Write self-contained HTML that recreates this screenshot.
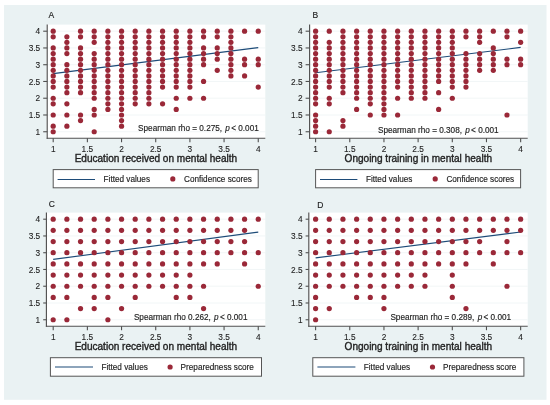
<!DOCTYPE html>
<html><head><meta charset="utf-8"><title>Scatter plots</title>
<style>
html,body{margin:0;padding:0;background:#fff;}
body{width:550px;height:405px;overflow:hidden;}
svg{display:block;}
text{font-family:"Liberation Sans", Arial, sans-serif;fill:#222;}
circle{fill:#9a2838;}
.tk{stroke:#222;stroke-width:0.1px;}
.xt{stroke:#222;stroke-width:0.35px;}
.lt{stroke:#222;stroke-width:0.15px;}
.t{stroke:#222;stroke-width:0.15px;}
</style></head><body>
<svg width="550" height="405" viewBox="0 0 550 405">
<rect x="0" y="0" width="550" height="405" fill="#fff"/>
<rect x="4" y="5" width="542.5" height="394.8" fill="#eaf2f3"/>
<rect x="46.5" y="24.6" width="218.8" height="113.6" fill="#fff"/>
<line x1="46.5" x2="265.3" y1="131.75" y2="131.75" stroke="#eff4f5" stroke-width="0.8"/>
<line x1="46.5" x2="265.3" y1="114.99" y2="114.99" stroke="#eff4f5" stroke-width="0.8"/>
<line x1="46.5" x2="265.3" y1="98.23" y2="98.23" stroke="#eff4f5" stroke-width="0.8"/>
<line x1="46.5" x2="265.3" y1="81.47" y2="81.47" stroke="#eff4f5" stroke-width="0.8"/>
<line x1="46.5" x2="265.3" y1="64.72" y2="64.72" stroke="#eff4f5" stroke-width="0.8"/>
<line x1="46.5" x2="265.3" y1="47.96" y2="47.96" stroke="#eff4f5" stroke-width="0.8"/>
<line x1="46.5" x2="265.3" y1="31.20" y2="31.20" stroke="#eff4f5" stroke-width="0.8"/>
<line x1="53.20" y1="73.60" x2="258.25" y2="47.60" stroke="#1d4b78" stroke-width="1.1"/>
<circle cx="53.20" cy="31.20" r="2.6"/>
<circle cx="53.20" cy="36.79" r="2.6"/>
<circle cx="53.20" cy="47.96" r="2.6"/>
<circle cx="53.20" cy="53.54" r="2.6"/>
<circle cx="53.20" cy="59.13" r="2.6"/>
<circle cx="53.20" cy="64.72" r="2.6"/>
<circle cx="53.20" cy="70.30" r="2.6"/>
<circle cx="53.20" cy="75.89" r="2.6"/>
<circle cx="53.20" cy="81.47" r="2.6"/>
<circle cx="53.20" cy="87.06" r="2.6"/>
<circle cx="53.20" cy="98.23" r="2.6"/>
<circle cx="53.20" cy="103.82" r="2.6"/>
<circle cx="53.20" cy="114.99" r="2.6"/>
<circle cx="53.20" cy="126.16" r="2.6"/>
<circle cx="53.20" cy="131.75" r="2.6"/>
<circle cx="66.87" cy="36.79" r="2.6"/>
<circle cx="66.87" cy="42.37" r="2.6"/>
<circle cx="66.87" cy="47.96" r="2.6"/>
<circle cx="66.87" cy="53.54" r="2.6"/>
<circle cx="66.87" cy="64.72" r="2.6"/>
<circle cx="66.87" cy="70.30" r="2.6"/>
<circle cx="66.87" cy="75.89" r="2.6"/>
<circle cx="66.87" cy="81.47" r="2.6"/>
<circle cx="66.87" cy="87.06" r="2.6"/>
<circle cx="66.87" cy="92.65" r="2.6"/>
<circle cx="66.87" cy="103.82" r="2.6"/>
<circle cx="66.87" cy="114.99" r="2.6"/>
<circle cx="66.87" cy="126.16" r="2.6"/>
<circle cx="80.54" cy="31.20" r="2.6"/>
<circle cx="80.54" cy="36.79" r="2.6"/>
<circle cx="80.54" cy="47.96" r="2.6"/>
<circle cx="80.54" cy="53.54" r="2.6"/>
<circle cx="80.54" cy="59.13" r="2.6"/>
<circle cx="80.54" cy="64.72" r="2.6"/>
<circle cx="80.54" cy="70.30" r="2.6"/>
<circle cx="80.54" cy="75.89" r="2.6"/>
<circle cx="80.54" cy="81.47" r="2.6"/>
<circle cx="80.54" cy="87.06" r="2.6"/>
<circle cx="80.54" cy="92.65" r="2.6"/>
<circle cx="80.54" cy="114.99" r="2.6"/>
<circle cx="80.54" cy="120.58" r="2.6"/>
<circle cx="94.21" cy="31.20" r="2.6"/>
<circle cx="94.21" cy="36.79" r="2.6"/>
<circle cx="94.21" cy="42.37" r="2.6"/>
<circle cx="94.21" cy="53.54" r="2.6"/>
<circle cx="94.21" cy="59.13" r="2.6"/>
<circle cx="94.21" cy="64.72" r="2.6"/>
<circle cx="94.21" cy="70.30" r="2.6"/>
<circle cx="94.21" cy="75.89" r="2.6"/>
<circle cx="94.21" cy="81.47" r="2.6"/>
<circle cx="94.21" cy="87.06" r="2.6"/>
<circle cx="94.21" cy="92.65" r="2.6"/>
<circle cx="94.21" cy="98.23" r="2.6"/>
<circle cx="94.21" cy="109.41" r="2.6"/>
<circle cx="94.21" cy="114.99" r="2.6"/>
<circle cx="94.21" cy="131.75" r="2.6"/>
<circle cx="107.88" cy="31.20" r="2.6"/>
<circle cx="107.88" cy="36.79" r="2.6"/>
<circle cx="107.88" cy="42.37" r="2.6"/>
<circle cx="107.88" cy="47.96" r="2.6"/>
<circle cx="107.88" cy="53.54" r="2.6"/>
<circle cx="107.88" cy="59.13" r="2.6"/>
<circle cx="107.88" cy="64.72" r="2.6"/>
<circle cx="107.88" cy="70.30" r="2.6"/>
<circle cx="107.88" cy="75.89" r="2.6"/>
<circle cx="107.88" cy="81.47" r="2.6"/>
<circle cx="107.88" cy="87.06" r="2.6"/>
<circle cx="107.88" cy="92.65" r="2.6"/>
<circle cx="107.88" cy="98.23" r="2.6"/>
<circle cx="107.88" cy="103.82" r="2.6"/>
<circle cx="107.88" cy="109.41" r="2.6"/>
<circle cx="121.55" cy="31.20" r="2.6"/>
<circle cx="121.55" cy="36.79" r="2.6"/>
<circle cx="121.55" cy="42.37" r="2.6"/>
<circle cx="121.55" cy="47.96" r="2.6"/>
<circle cx="121.55" cy="53.54" r="2.6"/>
<circle cx="121.55" cy="59.13" r="2.6"/>
<circle cx="121.55" cy="64.72" r="2.6"/>
<circle cx="121.55" cy="70.30" r="2.6"/>
<circle cx="121.55" cy="75.89" r="2.6"/>
<circle cx="121.55" cy="81.47" r="2.6"/>
<circle cx="121.55" cy="87.06" r="2.6"/>
<circle cx="121.55" cy="92.65" r="2.6"/>
<circle cx="121.55" cy="98.23" r="2.6"/>
<circle cx="121.55" cy="103.82" r="2.6"/>
<circle cx="121.55" cy="109.41" r="2.6"/>
<circle cx="121.55" cy="114.99" r="2.6"/>
<circle cx="121.55" cy="120.58" r="2.6"/>
<circle cx="121.55" cy="126.16" r="2.6"/>
<circle cx="135.22" cy="31.20" r="2.6"/>
<circle cx="135.22" cy="36.79" r="2.6"/>
<circle cx="135.22" cy="42.37" r="2.6"/>
<circle cx="135.22" cy="47.96" r="2.6"/>
<circle cx="135.22" cy="53.54" r="2.6"/>
<circle cx="135.22" cy="59.13" r="2.6"/>
<circle cx="135.22" cy="64.72" r="2.6"/>
<circle cx="135.22" cy="70.30" r="2.6"/>
<circle cx="135.22" cy="75.89" r="2.6"/>
<circle cx="135.22" cy="81.47" r="2.6"/>
<circle cx="135.22" cy="87.06" r="2.6"/>
<circle cx="135.22" cy="92.65" r="2.6"/>
<circle cx="135.22" cy="98.23" r="2.6"/>
<circle cx="135.22" cy="103.82" r="2.6"/>
<circle cx="148.89" cy="31.20" r="2.6"/>
<circle cx="148.89" cy="36.79" r="2.6"/>
<circle cx="148.89" cy="42.37" r="2.6"/>
<circle cx="148.89" cy="47.96" r="2.6"/>
<circle cx="148.89" cy="53.54" r="2.6"/>
<circle cx="148.89" cy="59.13" r="2.6"/>
<circle cx="148.89" cy="64.72" r="2.6"/>
<circle cx="148.89" cy="70.30" r="2.6"/>
<circle cx="148.89" cy="75.89" r="2.6"/>
<circle cx="148.89" cy="81.47" r="2.6"/>
<circle cx="148.89" cy="87.06" r="2.6"/>
<circle cx="148.89" cy="92.65" r="2.6"/>
<circle cx="148.89" cy="98.23" r="2.6"/>
<circle cx="148.89" cy="103.82" r="2.6"/>
<circle cx="162.56" cy="31.20" r="2.6"/>
<circle cx="162.56" cy="36.79" r="2.6"/>
<circle cx="162.56" cy="42.37" r="2.6"/>
<circle cx="162.56" cy="47.96" r="2.6"/>
<circle cx="162.56" cy="53.54" r="2.6"/>
<circle cx="162.56" cy="59.13" r="2.6"/>
<circle cx="162.56" cy="64.72" r="2.6"/>
<circle cx="162.56" cy="70.30" r="2.6"/>
<circle cx="162.56" cy="75.89" r="2.6"/>
<circle cx="162.56" cy="81.47" r="2.6"/>
<circle cx="162.56" cy="87.06" r="2.6"/>
<circle cx="162.56" cy="103.82" r="2.6"/>
<circle cx="176.23" cy="31.20" r="2.6"/>
<circle cx="176.23" cy="36.79" r="2.6"/>
<circle cx="176.23" cy="42.37" r="2.6"/>
<circle cx="176.23" cy="47.96" r="2.6"/>
<circle cx="176.23" cy="53.54" r="2.6"/>
<circle cx="176.23" cy="59.13" r="2.6"/>
<circle cx="176.23" cy="64.72" r="2.6"/>
<circle cx="176.23" cy="70.30" r="2.6"/>
<circle cx="176.23" cy="75.89" r="2.6"/>
<circle cx="176.23" cy="81.47" r="2.6"/>
<circle cx="176.23" cy="87.06" r="2.6"/>
<circle cx="176.23" cy="98.23" r="2.6"/>
<circle cx="176.23" cy="109.41" r="2.6"/>
<circle cx="189.90" cy="31.20" r="2.6"/>
<circle cx="189.90" cy="36.79" r="2.6"/>
<circle cx="189.90" cy="42.37" r="2.6"/>
<circle cx="189.90" cy="47.96" r="2.6"/>
<circle cx="189.90" cy="53.54" r="2.6"/>
<circle cx="189.90" cy="59.13" r="2.6"/>
<circle cx="189.90" cy="64.72" r="2.6"/>
<circle cx="189.90" cy="70.30" r="2.6"/>
<circle cx="189.90" cy="75.89" r="2.6"/>
<circle cx="189.90" cy="81.47" r="2.6"/>
<circle cx="189.90" cy="87.06" r="2.6"/>
<circle cx="189.90" cy="98.23" r="2.6"/>
<circle cx="203.57" cy="31.20" r="2.6"/>
<circle cx="203.57" cy="36.79" r="2.6"/>
<circle cx="203.57" cy="47.96" r="2.6"/>
<circle cx="203.57" cy="53.54" r="2.6"/>
<circle cx="203.57" cy="59.13" r="2.6"/>
<circle cx="203.57" cy="64.72" r="2.6"/>
<circle cx="203.57" cy="81.47" r="2.6"/>
<circle cx="203.57" cy="98.23" r="2.6"/>
<circle cx="217.24" cy="31.20" r="2.6"/>
<circle cx="217.24" cy="36.79" r="2.6"/>
<circle cx="217.24" cy="47.96" r="2.6"/>
<circle cx="217.24" cy="53.54" r="2.6"/>
<circle cx="217.24" cy="59.13" r="2.6"/>
<circle cx="217.24" cy="70.30" r="2.6"/>
<circle cx="230.91" cy="31.20" r="2.6"/>
<circle cx="230.91" cy="36.79" r="2.6"/>
<circle cx="230.91" cy="42.37" r="2.6"/>
<circle cx="230.91" cy="47.96" r="2.6"/>
<circle cx="230.91" cy="53.54" r="2.6"/>
<circle cx="230.91" cy="59.13" r="2.6"/>
<circle cx="230.91" cy="64.72" r="2.6"/>
<circle cx="230.91" cy="70.30" r="2.6"/>
<circle cx="230.91" cy="75.89" r="2.6"/>
<circle cx="244.58" cy="31.20" r="2.6"/>
<circle cx="244.58" cy="59.13" r="2.6"/>
<circle cx="244.58" cy="64.72" r="2.6"/>
<circle cx="244.58" cy="75.89" r="2.6"/>
<circle cx="258.25" cy="31.20" r="2.6"/>
<circle cx="258.25" cy="59.13" r="2.6"/>
<circle cx="258.25" cy="64.72" r="2.6"/>
<circle cx="258.25" cy="87.06" r="2.6"/>
<line x1="47.2" x2="47.2" y1="24.6" y2="138.7" stroke="#505050" stroke-width="1.15"/>
<line x1="46.7" x2="265.3" y1="138.2" y2="138.2" stroke="#505050" stroke-width="1.15"/>
<line x1="43.2" x2="47.2" y1="131.75" y2="131.75" stroke="#505050" stroke-width="1.1"/>
<text x="40.20" y="134.95" text-anchor="end" font-size="8.3" class="tk">1</text>
<line x1="43.2" x2="47.2" y1="114.99" y2="114.99" stroke="#505050" stroke-width="1.1"/>
<text x="40.20" y="118.19" text-anchor="end" font-size="8.3" class="tk">1.5</text>
<line x1="43.2" x2="47.2" y1="98.23" y2="98.23" stroke="#505050" stroke-width="1.1"/>
<text x="40.20" y="101.43" text-anchor="end" font-size="8.3" class="tk">2</text>
<line x1="43.2" x2="47.2" y1="81.47" y2="81.47" stroke="#505050" stroke-width="1.1"/>
<text x="40.20" y="84.67" text-anchor="end" font-size="8.3" class="tk">2.5</text>
<line x1="43.2" x2="47.2" y1="64.72" y2="64.72" stroke="#505050" stroke-width="1.1"/>
<text x="40.20" y="67.92" text-anchor="end" font-size="8.3" class="tk">3</text>
<line x1="43.2" x2="47.2" y1="47.96" y2="47.96" stroke="#505050" stroke-width="1.1"/>
<text x="40.20" y="51.16" text-anchor="end" font-size="8.3" class="tk">3.5</text>
<line x1="43.2" x2="47.2" y1="31.20" y2="31.20" stroke="#505050" stroke-width="1.1"/>
<text x="40.20" y="34.40" text-anchor="end" font-size="8.3" class="tk">4</text>
<line x1="53.20" x2="53.20" y1="138.2" y2="142.2" stroke="#505050" stroke-width="1.1"/>
<text x="53.20" y="151.9" text-anchor="middle" font-size="8.3" class="tk">1</text>
<line x1="87.38" x2="87.38" y1="138.2" y2="142.2" stroke="#505050" stroke-width="1.1"/>
<text x="87.38" y="151.9" text-anchor="middle" font-size="8.3" class="tk">1.5</text>
<line x1="121.55" x2="121.55" y1="138.2" y2="142.2" stroke="#505050" stroke-width="1.1"/>
<text x="121.55" y="151.9" text-anchor="middle" font-size="8.3" class="tk">2</text>
<line x1="155.72" x2="155.72" y1="138.2" y2="142.2" stroke="#505050" stroke-width="1.1"/>
<text x="155.72" y="151.9" text-anchor="middle" font-size="8.3" class="tk">2.5</text>
<line x1="189.90" x2="189.90" y1="138.2" y2="142.2" stroke="#505050" stroke-width="1.1"/>
<text x="189.90" y="151.9" text-anchor="middle" font-size="8.3" class="tk">3</text>
<line x1="224.07" x2="224.07" y1="138.2" y2="142.2" stroke="#505050" stroke-width="1.1"/>
<text x="224.07" y="151.9" text-anchor="middle" font-size="8.3" class="tk">3.5</text>
<line x1="258.25" x2="258.25" y1="138.2" y2="142.2" stroke="#505050" stroke-width="1.1"/>
<text x="258.25" y="151.9" text-anchor="middle" font-size="8.3" class="tk">4</text>
<text x="48.5" y="18.4" font-size="8.5" class="lt">A</text>
<text x="155.90" y="161.9" text-anchor="middle" font-size="10.05" class="xt">Education received on mental health</text>
<text x="138.1" y="130.8" font-size="8.2" class="t">Spearman rho = 0.275, <tspan dx="1" font-style="italic">p</tspan><tspan dx="-1"> &lt; 0.001</tspan></text>
<rect x="53.2" y="169.6" width="205.0" height="18.2" fill="#fff" stroke="#555" stroke-width="1"/>
<line x1="57.6" x2="95" y1="179.5" y2="179.5" stroke="#1d4b78" stroke-width="1.1"/>
<text x="103.6" y="181.9" font-size="8.2" class="t">Fitted values</text>
<circle cx="172.8" cy="178.9" r="2.6" fill="#9a2838"/>
<text x="184" y="181.9" font-size="8.2" class="t">Confidence scores</text>
<rect x="308.9" y="24.6" width="218.8" height="113.6" fill="#fff"/>
<line x1="308.9" x2="527.7" y1="131.75" y2="131.75" stroke="#eff4f5" stroke-width="0.8"/>
<line x1="308.9" x2="527.7" y1="114.99" y2="114.99" stroke="#eff4f5" stroke-width="0.8"/>
<line x1="308.9" x2="527.7" y1="98.23" y2="98.23" stroke="#eff4f5" stroke-width="0.8"/>
<line x1="308.9" x2="527.7" y1="81.47" y2="81.47" stroke="#eff4f5" stroke-width="0.8"/>
<line x1="308.9" x2="527.7" y1="64.72" y2="64.72" stroke="#eff4f5" stroke-width="0.8"/>
<line x1="308.9" x2="527.7" y1="47.96" y2="47.96" stroke="#eff4f5" stroke-width="0.8"/>
<line x1="308.9" x2="527.7" y1="31.20" y2="31.20" stroke="#eff4f5" stroke-width="0.8"/>
<line x1="315.60" y1="72.80" x2="520.65" y2="47.40" stroke="#1d4b78" stroke-width="1.1"/>
<circle cx="315.60" cy="31.20" r="2.6"/>
<circle cx="315.60" cy="36.79" r="2.6"/>
<circle cx="315.60" cy="42.37" r="2.6"/>
<circle cx="315.60" cy="47.96" r="2.6"/>
<circle cx="315.60" cy="53.54" r="2.6"/>
<circle cx="315.60" cy="59.13" r="2.6"/>
<circle cx="315.60" cy="64.72" r="2.6"/>
<circle cx="315.60" cy="70.30" r="2.6"/>
<circle cx="315.60" cy="75.89" r="2.6"/>
<circle cx="315.60" cy="81.47" r="2.6"/>
<circle cx="315.60" cy="87.06" r="2.6"/>
<circle cx="315.60" cy="92.65" r="2.6"/>
<circle cx="315.60" cy="98.23" r="2.6"/>
<circle cx="315.60" cy="103.82" r="2.6"/>
<circle cx="315.60" cy="114.99" r="2.6"/>
<circle cx="315.60" cy="120.58" r="2.6"/>
<circle cx="315.60" cy="126.16" r="2.6"/>
<circle cx="315.60" cy="131.75" r="2.6"/>
<circle cx="329.27" cy="31.20" r="2.6"/>
<circle cx="329.27" cy="42.37" r="2.6"/>
<circle cx="329.27" cy="47.96" r="2.6"/>
<circle cx="329.27" cy="53.54" r="2.6"/>
<circle cx="329.27" cy="59.13" r="2.6"/>
<circle cx="329.27" cy="64.72" r="2.6"/>
<circle cx="329.27" cy="70.30" r="2.6"/>
<circle cx="329.27" cy="75.89" r="2.6"/>
<circle cx="329.27" cy="81.47" r="2.6"/>
<circle cx="329.27" cy="87.06" r="2.6"/>
<circle cx="329.27" cy="98.23" r="2.6"/>
<circle cx="329.27" cy="103.82" r="2.6"/>
<circle cx="329.27" cy="131.75" r="2.6"/>
<circle cx="342.94" cy="31.20" r="2.6"/>
<circle cx="342.94" cy="36.79" r="2.6"/>
<circle cx="342.94" cy="42.37" r="2.6"/>
<circle cx="342.94" cy="47.96" r="2.6"/>
<circle cx="342.94" cy="53.54" r="2.6"/>
<circle cx="342.94" cy="59.13" r="2.6"/>
<circle cx="342.94" cy="64.72" r="2.6"/>
<circle cx="342.94" cy="70.30" r="2.6"/>
<circle cx="342.94" cy="75.89" r="2.6"/>
<circle cx="342.94" cy="81.47" r="2.6"/>
<circle cx="342.94" cy="87.06" r="2.6"/>
<circle cx="342.94" cy="92.65" r="2.6"/>
<circle cx="342.94" cy="120.58" r="2.6"/>
<circle cx="342.94" cy="126.16" r="2.6"/>
<circle cx="356.61" cy="31.20" r="2.6"/>
<circle cx="356.61" cy="36.79" r="2.6"/>
<circle cx="356.61" cy="42.37" r="2.6"/>
<circle cx="356.61" cy="47.96" r="2.6"/>
<circle cx="356.61" cy="53.54" r="2.6"/>
<circle cx="356.61" cy="59.13" r="2.6"/>
<circle cx="356.61" cy="64.72" r="2.6"/>
<circle cx="356.61" cy="70.30" r="2.6"/>
<circle cx="356.61" cy="75.89" r="2.6"/>
<circle cx="356.61" cy="81.47" r="2.6"/>
<circle cx="356.61" cy="87.06" r="2.6"/>
<circle cx="356.61" cy="92.65" r="2.6"/>
<circle cx="356.61" cy="98.23" r="2.6"/>
<circle cx="356.61" cy="109.41" r="2.6"/>
<circle cx="370.28" cy="31.20" r="2.6"/>
<circle cx="370.28" cy="36.79" r="2.6"/>
<circle cx="370.28" cy="42.37" r="2.6"/>
<circle cx="370.28" cy="47.96" r="2.6"/>
<circle cx="370.28" cy="53.54" r="2.6"/>
<circle cx="370.28" cy="59.13" r="2.6"/>
<circle cx="370.28" cy="64.72" r="2.6"/>
<circle cx="370.28" cy="70.30" r="2.6"/>
<circle cx="370.28" cy="75.89" r="2.6"/>
<circle cx="370.28" cy="81.47" r="2.6"/>
<circle cx="370.28" cy="87.06" r="2.6"/>
<circle cx="370.28" cy="92.65" r="2.6"/>
<circle cx="370.28" cy="98.23" r="2.6"/>
<circle cx="370.28" cy="103.82" r="2.6"/>
<circle cx="370.28" cy="114.99" r="2.6"/>
<circle cx="383.95" cy="31.20" r="2.6"/>
<circle cx="383.95" cy="36.79" r="2.6"/>
<circle cx="383.95" cy="42.37" r="2.6"/>
<circle cx="383.95" cy="47.96" r="2.6"/>
<circle cx="383.95" cy="53.54" r="2.6"/>
<circle cx="383.95" cy="59.13" r="2.6"/>
<circle cx="383.95" cy="64.72" r="2.6"/>
<circle cx="383.95" cy="70.30" r="2.6"/>
<circle cx="383.95" cy="75.89" r="2.6"/>
<circle cx="383.95" cy="81.47" r="2.6"/>
<circle cx="383.95" cy="87.06" r="2.6"/>
<circle cx="383.95" cy="92.65" r="2.6"/>
<circle cx="383.95" cy="98.23" r="2.6"/>
<circle cx="383.95" cy="103.82" r="2.6"/>
<circle cx="383.95" cy="109.41" r="2.6"/>
<circle cx="383.95" cy="114.99" r="2.6"/>
<circle cx="397.62" cy="31.20" r="2.6"/>
<circle cx="397.62" cy="36.79" r="2.6"/>
<circle cx="397.62" cy="42.37" r="2.6"/>
<circle cx="397.62" cy="47.96" r="2.6"/>
<circle cx="397.62" cy="53.54" r="2.6"/>
<circle cx="397.62" cy="59.13" r="2.6"/>
<circle cx="397.62" cy="64.72" r="2.6"/>
<circle cx="397.62" cy="70.30" r="2.6"/>
<circle cx="397.62" cy="75.89" r="2.6"/>
<circle cx="397.62" cy="81.47" r="2.6"/>
<circle cx="397.62" cy="87.06" r="2.6"/>
<circle cx="397.62" cy="98.23" r="2.6"/>
<circle cx="397.62" cy="114.99" r="2.6"/>
<circle cx="411.29" cy="31.20" r="2.6"/>
<circle cx="411.29" cy="36.79" r="2.6"/>
<circle cx="411.29" cy="42.37" r="2.6"/>
<circle cx="411.29" cy="47.96" r="2.6"/>
<circle cx="411.29" cy="53.54" r="2.6"/>
<circle cx="411.29" cy="59.13" r="2.6"/>
<circle cx="411.29" cy="64.72" r="2.6"/>
<circle cx="411.29" cy="70.30" r="2.6"/>
<circle cx="411.29" cy="75.89" r="2.6"/>
<circle cx="411.29" cy="81.47" r="2.6"/>
<circle cx="411.29" cy="87.06" r="2.6"/>
<circle cx="411.29" cy="92.65" r="2.6"/>
<circle cx="411.29" cy="98.23" r="2.6"/>
<circle cx="424.96" cy="31.20" r="2.6"/>
<circle cx="424.96" cy="36.79" r="2.6"/>
<circle cx="424.96" cy="42.37" r="2.6"/>
<circle cx="424.96" cy="47.96" r="2.6"/>
<circle cx="424.96" cy="53.54" r="2.6"/>
<circle cx="424.96" cy="59.13" r="2.6"/>
<circle cx="424.96" cy="64.72" r="2.6"/>
<circle cx="424.96" cy="70.30" r="2.6"/>
<circle cx="424.96" cy="75.89" r="2.6"/>
<circle cx="424.96" cy="81.47" r="2.6"/>
<circle cx="424.96" cy="87.06" r="2.6"/>
<circle cx="424.96" cy="92.65" r="2.6"/>
<circle cx="424.96" cy="98.23" r="2.6"/>
<circle cx="438.63" cy="31.20" r="2.6"/>
<circle cx="438.63" cy="36.79" r="2.6"/>
<circle cx="438.63" cy="42.37" r="2.6"/>
<circle cx="438.63" cy="47.96" r="2.6"/>
<circle cx="438.63" cy="53.54" r="2.6"/>
<circle cx="438.63" cy="59.13" r="2.6"/>
<circle cx="438.63" cy="64.72" r="2.6"/>
<circle cx="438.63" cy="70.30" r="2.6"/>
<circle cx="438.63" cy="75.89" r="2.6"/>
<circle cx="438.63" cy="81.47" r="2.6"/>
<circle cx="438.63" cy="92.65" r="2.6"/>
<circle cx="438.63" cy="109.41" r="2.6"/>
<circle cx="452.30" cy="31.20" r="2.6"/>
<circle cx="452.30" cy="36.79" r="2.6"/>
<circle cx="452.30" cy="42.37" r="2.6"/>
<circle cx="452.30" cy="47.96" r="2.6"/>
<circle cx="452.30" cy="53.54" r="2.6"/>
<circle cx="452.30" cy="59.13" r="2.6"/>
<circle cx="452.30" cy="64.72" r="2.6"/>
<circle cx="452.30" cy="70.30" r="2.6"/>
<circle cx="452.30" cy="75.89" r="2.6"/>
<circle cx="452.30" cy="81.47" r="2.6"/>
<circle cx="452.30" cy="87.06" r="2.6"/>
<circle cx="452.30" cy="98.23" r="2.6"/>
<circle cx="465.97" cy="31.20" r="2.6"/>
<circle cx="465.97" cy="36.79" r="2.6"/>
<circle cx="465.97" cy="53.54" r="2.6"/>
<circle cx="465.97" cy="59.13" r="2.6"/>
<circle cx="465.97" cy="64.72" r="2.6"/>
<circle cx="465.97" cy="70.30" r="2.6"/>
<circle cx="465.97" cy="75.89" r="2.6"/>
<circle cx="465.97" cy="81.47" r="2.6"/>
<circle cx="465.97" cy="87.06" r="2.6"/>
<circle cx="479.64" cy="31.20" r="2.6"/>
<circle cx="479.64" cy="36.79" r="2.6"/>
<circle cx="479.64" cy="42.37" r="2.6"/>
<circle cx="479.64" cy="53.54" r="2.6"/>
<circle cx="479.64" cy="59.13" r="2.6"/>
<circle cx="479.64" cy="64.72" r="2.6"/>
<circle cx="479.64" cy="70.30" r="2.6"/>
<circle cx="493.31" cy="31.20" r="2.6"/>
<circle cx="493.31" cy="47.96" r="2.6"/>
<circle cx="493.31" cy="53.54" r="2.6"/>
<circle cx="493.31" cy="59.13" r="2.6"/>
<circle cx="493.31" cy="64.72" r="2.6"/>
<circle cx="493.31" cy="70.30" r="2.6"/>
<circle cx="506.98" cy="31.20" r="2.6"/>
<circle cx="506.98" cy="36.79" r="2.6"/>
<circle cx="506.98" cy="59.13" r="2.6"/>
<circle cx="506.98" cy="64.72" r="2.6"/>
<circle cx="506.98" cy="114.99" r="2.6"/>
<circle cx="520.65" cy="31.20" r="2.6"/>
<circle cx="520.65" cy="42.37" r="2.6"/>
<circle cx="520.65" cy="59.13" r="2.6"/>
<circle cx="520.65" cy="64.72" r="2.6"/>
<line x1="309.6" x2="309.6" y1="24.6" y2="138.7" stroke="#505050" stroke-width="1.15"/>
<line x1="309.1" x2="527.7" y1="138.2" y2="138.2" stroke="#505050" stroke-width="1.15"/>
<line x1="305.6" x2="309.6" y1="131.75" y2="131.75" stroke="#505050" stroke-width="1.1"/>
<text x="302.60" y="134.95" text-anchor="end" font-size="8.3" class="tk">1</text>
<line x1="305.6" x2="309.6" y1="114.99" y2="114.99" stroke="#505050" stroke-width="1.1"/>
<text x="302.60" y="118.19" text-anchor="end" font-size="8.3" class="tk">1.5</text>
<line x1="305.6" x2="309.6" y1="98.23" y2="98.23" stroke="#505050" stroke-width="1.1"/>
<text x="302.60" y="101.43" text-anchor="end" font-size="8.3" class="tk">2</text>
<line x1="305.6" x2="309.6" y1="81.47" y2="81.47" stroke="#505050" stroke-width="1.1"/>
<text x="302.60" y="84.67" text-anchor="end" font-size="8.3" class="tk">2.5</text>
<line x1="305.6" x2="309.6" y1="64.72" y2="64.72" stroke="#505050" stroke-width="1.1"/>
<text x="302.60" y="67.92" text-anchor="end" font-size="8.3" class="tk">3</text>
<line x1="305.6" x2="309.6" y1="47.96" y2="47.96" stroke="#505050" stroke-width="1.1"/>
<text x="302.60" y="51.16" text-anchor="end" font-size="8.3" class="tk">3.5</text>
<line x1="305.6" x2="309.6" y1="31.20" y2="31.20" stroke="#505050" stroke-width="1.1"/>
<text x="302.60" y="34.40" text-anchor="end" font-size="8.3" class="tk">4</text>
<line x1="315.60" x2="315.60" y1="138.2" y2="142.2" stroke="#505050" stroke-width="1.1"/>
<text x="315.60" y="151.9" text-anchor="middle" font-size="8.3" class="tk">1</text>
<line x1="349.77" x2="349.77" y1="138.2" y2="142.2" stroke="#505050" stroke-width="1.1"/>
<text x="349.77" y="151.9" text-anchor="middle" font-size="8.3" class="tk">1.5</text>
<line x1="383.95" x2="383.95" y1="138.2" y2="142.2" stroke="#505050" stroke-width="1.1"/>
<text x="383.95" y="151.9" text-anchor="middle" font-size="8.3" class="tk">2</text>
<line x1="418.12" x2="418.12" y1="138.2" y2="142.2" stroke="#505050" stroke-width="1.1"/>
<text x="418.12" y="151.9" text-anchor="middle" font-size="8.3" class="tk">2.5</text>
<line x1="452.30" x2="452.30" y1="138.2" y2="142.2" stroke="#505050" stroke-width="1.1"/>
<text x="452.30" y="151.9" text-anchor="middle" font-size="8.3" class="tk">3</text>
<line x1="486.47" x2="486.47" y1="138.2" y2="142.2" stroke="#505050" stroke-width="1.1"/>
<text x="486.47" y="151.9" text-anchor="middle" font-size="8.3" class="tk">3.5</text>
<line x1="520.65" x2="520.65" y1="138.2" y2="142.2" stroke="#505050" stroke-width="1.1"/>
<text x="520.65" y="151.9" text-anchor="middle" font-size="8.3" class="tk">4</text>
<text x="312.5" y="18.0" font-size="8.5" class="lt">B</text>
<text x="418.30" y="161.9" text-anchor="middle" font-size="10.05" class="xt">Ongoing training in mental health</text>
<text x="378.0" y="132.7" font-size="8.2" class="t">Spearman rho = 0.308, <tspan dx="1" font-style="italic">p</tspan><tspan dx="-1"> &lt; 0.001</tspan></text>
<rect x="315.6" y="169.6" width="205.0" height="18.2" fill="#fff" stroke="#555" stroke-width="1"/>
<line x1="320.0" x2="357.4" y1="179.5" y2="179.5" stroke="#1d4b78" stroke-width="1.1"/>
<text x="366.0" y="181.9" font-size="8.2" class="t">Fitted values</text>
<circle cx="435.2" cy="178.9" r="2.6" fill="#9a2838"/>
<text x="446.4" y="181.9" font-size="8.2" class="t">Confidence scores</text>
<rect x="45.7" y="212.6" width="219.6" height="113.6" fill="#fff"/>
<line x1="45.7" x2="265.3" y1="319.75" y2="319.75" stroke="#eff4f5" stroke-width="0.8"/>
<line x1="45.7" x2="265.3" y1="302.99" y2="302.99" stroke="#eff4f5" stroke-width="0.8"/>
<line x1="45.7" x2="265.3" y1="286.23" y2="286.23" stroke="#eff4f5" stroke-width="0.8"/>
<line x1="45.7" x2="265.3" y1="269.47" y2="269.47" stroke="#eff4f5" stroke-width="0.8"/>
<line x1="45.7" x2="265.3" y1="252.72" y2="252.72" stroke="#eff4f5" stroke-width="0.8"/>
<line x1="45.7" x2="265.3" y1="235.96" y2="235.96" stroke="#eff4f5" stroke-width="0.8"/>
<line x1="45.7" x2="265.3" y1="219.20" y2="219.20" stroke="#eff4f5" stroke-width="0.8"/>
<line x1="53.20" y1="259.40" x2="258.25" y2="232.10" stroke="#1d4b78" stroke-width="1.1"/>
<circle cx="53.20" cy="219.20" r="2.6"/>
<circle cx="53.20" cy="230.37" r="2.6"/>
<circle cx="53.20" cy="241.54" r="2.6"/>
<circle cx="53.20" cy="252.72" r="2.6"/>
<circle cx="53.20" cy="263.89" r="2.6"/>
<circle cx="53.20" cy="275.06" r="2.6"/>
<circle cx="53.20" cy="286.23" r="2.6"/>
<circle cx="53.20" cy="297.41" r="2.6"/>
<circle cx="53.20" cy="319.75" r="2.6"/>
<circle cx="66.87" cy="219.20" r="2.6"/>
<circle cx="66.87" cy="230.37" r="2.6"/>
<circle cx="66.87" cy="241.54" r="2.6"/>
<circle cx="66.87" cy="252.72" r="2.6"/>
<circle cx="66.87" cy="263.89" r="2.6"/>
<circle cx="66.87" cy="275.06" r="2.6"/>
<circle cx="66.87" cy="286.23" r="2.6"/>
<circle cx="66.87" cy="297.41" r="2.6"/>
<circle cx="66.87" cy="319.75" r="2.6"/>
<circle cx="80.54" cy="219.20" r="2.6"/>
<circle cx="80.54" cy="230.37" r="2.6"/>
<circle cx="80.54" cy="241.54" r="2.6"/>
<circle cx="80.54" cy="252.72" r="2.6"/>
<circle cx="80.54" cy="263.89" r="2.6"/>
<circle cx="80.54" cy="275.06" r="2.6"/>
<circle cx="80.54" cy="286.23" r="2.6"/>
<circle cx="80.54" cy="308.58" r="2.6"/>
<circle cx="94.21" cy="219.20" r="2.6"/>
<circle cx="94.21" cy="230.37" r="2.6"/>
<circle cx="94.21" cy="241.54" r="2.6"/>
<circle cx="94.21" cy="252.72" r="2.6"/>
<circle cx="94.21" cy="263.89" r="2.6"/>
<circle cx="94.21" cy="275.06" r="2.6"/>
<circle cx="94.21" cy="286.23" r="2.6"/>
<circle cx="94.21" cy="297.41" r="2.6"/>
<circle cx="94.21" cy="308.58" r="2.6"/>
<circle cx="107.88" cy="219.20" r="2.6"/>
<circle cx="107.88" cy="230.37" r="2.6"/>
<circle cx="107.88" cy="241.54" r="2.6"/>
<circle cx="107.88" cy="252.72" r="2.6"/>
<circle cx="107.88" cy="263.89" r="2.6"/>
<circle cx="107.88" cy="275.06" r="2.6"/>
<circle cx="107.88" cy="286.23" r="2.6"/>
<circle cx="107.88" cy="297.41" r="2.6"/>
<circle cx="107.88" cy="319.75" r="2.6"/>
<circle cx="121.55" cy="219.20" r="2.6"/>
<circle cx="121.55" cy="230.37" r="2.6"/>
<circle cx="121.55" cy="241.54" r="2.6"/>
<circle cx="121.55" cy="252.72" r="2.6"/>
<circle cx="121.55" cy="263.89" r="2.6"/>
<circle cx="121.55" cy="275.06" r="2.6"/>
<circle cx="121.55" cy="286.23" r="2.6"/>
<circle cx="121.55" cy="308.58" r="2.6"/>
<circle cx="135.22" cy="219.20" r="2.6"/>
<circle cx="135.22" cy="230.37" r="2.6"/>
<circle cx="135.22" cy="241.54" r="2.6"/>
<circle cx="135.22" cy="252.72" r="2.6"/>
<circle cx="135.22" cy="263.89" r="2.6"/>
<circle cx="135.22" cy="275.06" r="2.6"/>
<circle cx="135.22" cy="286.23" r="2.6"/>
<circle cx="135.22" cy="297.41" r="2.6"/>
<circle cx="148.89" cy="219.20" r="2.6"/>
<circle cx="148.89" cy="230.37" r="2.6"/>
<circle cx="148.89" cy="241.54" r="2.6"/>
<circle cx="148.89" cy="252.72" r="2.6"/>
<circle cx="148.89" cy="263.89" r="2.6"/>
<circle cx="148.89" cy="275.06" r="2.6"/>
<circle cx="148.89" cy="286.23" r="2.6"/>
<circle cx="162.56" cy="219.20" r="2.6"/>
<circle cx="162.56" cy="230.37" r="2.6"/>
<circle cx="162.56" cy="241.54" r="2.6"/>
<circle cx="162.56" cy="252.72" r="2.6"/>
<circle cx="162.56" cy="263.89" r="2.6"/>
<circle cx="162.56" cy="275.06" r="2.6"/>
<circle cx="162.56" cy="286.23" r="2.6"/>
<circle cx="176.23" cy="219.20" r="2.6"/>
<circle cx="176.23" cy="230.37" r="2.6"/>
<circle cx="176.23" cy="241.54" r="2.6"/>
<circle cx="176.23" cy="252.72" r="2.6"/>
<circle cx="176.23" cy="263.89" r="2.6"/>
<circle cx="176.23" cy="275.06" r="2.6"/>
<circle cx="176.23" cy="286.23" r="2.6"/>
<circle cx="176.23" cy="297.41" r="2.6"/>
<circle cx="189.90" cy="219.20" r="2.6"/>
<circle cx="189.90" cy="230.37" r="2.6"/>
<circle cx="189.90" cy="241.54" r="2.6"/>
<circle cx="189.90" cy="252.72" r="2.6"/>
<circle cx="189.90" cy="263.89" r="2.6"/>
<circle cx="189.90" cy="275.06" r="2.6"/>
<circle cx="189.90" cy="286.23" r="2.6"/>
<circle cx="189.90" cy="297.41" r="2.6"/>
<circle cx="203.57" cy="219.20" r="2.6"/>
<circle cx="203.57" cy="230.37" r="2.6"/>
<circle cx="203.57" cy="241.54" r="2.6"/>
<circle cx="203.57" cy="252.72" r="2.6"/>
<circle cx="203.57" cy="263.89" r="2.6"/>
<circle cx="203.57" cy="286.23" r="2.6"/>
<circle cx="203.57" cy="308.58" r="2.6"/>
<circle cx="217.24" cy="219.20" r="2.6"/>
<circle cx="217.24" cy="230.37" r="2.6"/>
<circle cx="217.24" cy="241.54" r="2.6"/>
<circle cx="217.24" cy="252.72" r="2.6"/>
<circle cx="217.24" cy="263.89" r="2.6"/>
<circle cx="230.91" cy="219.20" r="2.6"/>
<circle cx="230.91" cy="230.37" r="2.6"/>
<circle cx="230.91" cy="241.54" r="2.6"/>
<circle cx="230.91" cy="252.72" r="2.6"/>
<circle cx="244.58" cy="219.20" r="2.6"/>
<circle cx="244.58" cy="230.37" r="2.6"/>
<circle cx="244.58" cy="241.54" r="2.6"/>
<circle cx="244.58" cy="252.72" r="2.6"/>
<circle cx="244.58" cy="263.89" r="2.6"/>
<circle cx="258.25" cy="219.20" r="2.6"/>
<circle cx="258.25" cy="252.72" r="2.6"/>
<circle cx="258.25" cy="286.23" r="2.6"/>
<line x1="46.4" x2="46.4" y1="212.6" y2="326.7" stroke="#505050" stroke-width="1.15"/>
<line x1="45.9" x2="265.3" y1="326.2" y2="326.2" stroke="#505050" stroke-width="1.15"/>
<line x1="43.2" x2="46.4" y1="319.75" y2="319.75" stroke="#505050" stroke-width="1.1"/>
<text x="40.20" y="322.95" text-anchor="end" font-size="8.3" class="tk">1</text>
<line x1="43.2" x2="46.4" y1="302.99" y2="302.99" stroke="#505050" stroke-width="1.1"/>
<text x="40.20" y="306.19" text-anchor="end" font-size="8.3" class="tk">1.5</text>
<line x1="43.2" x2="46.4" y1="286.23" y2="286.23" stroke="#505050" stroke-width="1.1"/>
<text x="40.20" y="289.43" text-anchor="end" font-size="8.3" class="tk">2</text>
<line x1="43.2" x2="46.4" y1="269.47" y2="269.47" stroke="#505050" stroke-width="1.1"/>
<text x="40.20" y="272.67" text-anchor="end" font-size="8.3" class="tk">2.5</text>
<line x1="43.2" x2="46.4" y1="252.72" y2="252.72" stroke="#505050" stroke-width="1.1"/>
<text x="40.20" y="255.92" text-anchor="end" font-size="8.3" class="tk">3</text>
<line x1="43.2" x2="46.4" y1="235.96" y2="235.96" stroke="#505050" stroke-width="1.1"/>
<text x="40.20" y="239.16" text-anchor="end" font-size="8.3" class="tk">3.5</text>
<line x1="43.2" x2="46.4" y1="219.20" y2="219.20" stroke="#505050" stroke-width="1.1"/>
<text x="40.20" y="222.40" text-anchor="end" font-size="8.3" class="tk">4</text>
<line x1="53.20" x2="53.20" y1="326.2" y2="330.2" stroke="#505050" stroke-width="1.1"/>
<text x="53.20" y="339.9" text-anchor="middle" font-size="8.3" class="tk">1</text>
<line x1="87.38" x2="87.38" y1="326.2" y2="330.2" stroke="#505050" stroke-width="1.1"/>
<text x="87.38" y="339.9" text-anchor="middle" font-size="8.3" class="tk">1.5</text>
<line x1="121.55" x2="121.55" y1="326.2" y2="330.2" stroke="#505050" stroke-width="1.1"/>
<text x="121.55" y="339.9" text-anchor="middle" font-size="8.3" class="tk">2</text>
<line x1="155.72" x2="155.72" y1="326.2" y2="330.2" stroke="#505050" stroke-width="1.1"/>
<text x="155.72" y="339.9" text-anchor="middle" font-size="8.3" class="tk">2.5</text>
<line x1="189.90" x2="189.90" y1="326.2" y2="330.2" stroke="#505050" stroke-width="1.1"/>
<text x="189.90" y="339.9" text-anchor="middle" font-size="8.3" class="tk">3</text>
<line x1="224.07" x2="224.07" y1="326.2" y2="330.2" stroke="#505050" stroke-width="1.1"/>
<text x="224.07" y="339.9" text-anchor="middle" font-size="8.3" class="tk">3.5</text>
<line x1="258.25" x2="258.25" y1="326.2" y2="330.2" stroke="#505050" stroke-width="1.1"/>
<text x="258.25" y="339.9" text-anchor="middle" font-size="8.3" class="tk">4</text>
<text x="48.7" y="207.0" font-size="8.5" class="lt">C</text>
<text x="155.90" y="349.9" text-anchor="middle" font-size="10.05" class="xt">Education received on mental health</text>
<text x="133.9" y="319.5" font-size="8.2" class="t">Spearman rho 0.262, <tspan dx="1" font-style="italic">p</tspan><tspan dx="-1"> &lt; 0.001</tspan></text>
<rect x="50.4" y="357.7" width="211.1" height="18.5" fill="#fff" stroke="#555" stroke-width="1"/>
<line x1="55" x2="93" y1="367.0" y2="367.0" stroke="#1d4b78" stroke-width="1.1"/>
<text x="101.4" y="369.9" font-size="8.2" class="t">Fitted values</text>
<circle cx="170.1" cy="367.0" r="2.6" fill="#9a2838"/>
<text x="180.6" y="369.9" font-size="8.2" class="t">Preparedness score</text>
<rect x="308.1" y="212.6" width="219.6" height="113.6" fill="#fff"/>
<line x1="308.1" x2="527.7" y1="319.75" y2="319.75" stroke="#eff4f5" stroke-width="0.8"/>
<line x1="308.1" x2="527.7" y1="302.99" y2="302.99" stroke="#eff4f5" stroke-width="0.8"/>
<line x1="308.1" x2="527.7" y1="286.23" y2="286.23" stroke="#eff4f5" stroke-width="0.8"/>
<line x1="308.1" x2="527.7" y1="269.47" y2="269.47" stroke="#eff4f5" stroke-width="0.8"/>
<line x1="308.1" x2="527.7" y1="252.72" y2="252.72" stroke="#eff4f5" stroke-width="0.8"/>
<line x1="308.1" x2="527.7" y1="235.96" y2="235.96" stroke="#eff4f5" stroke-width="0.8"/>
<line x1="308.1" x2="527.7" y1="219.20" y2="219.20" stroke="#eff4f5" stroke-width="0.8"/>
<line x1="315.60" y1="257.90" x2="520.65" y2="232.00" stroke="#1d4b78" stroke-width="1.1"/>
<circle cx="315.60" cy="219.20" r="2.6"/>
<circle cx="315.60" cy="230.37" r="2.6"/>
<circle cx="315.60" cy="241.54" r="2.6"/>
<circle cx="315.60" cy="252.72" r="2.6"/>
<circle cx="315.60" cy="263.89" r="2.6"/>
<circle cx="315.60" cy="275.06" r="2.6"/>
<circle cx="315.60" cy="286.23" r="2.6"/>
<circle cx="315.60" cy="297.41" r="2.6"/>
<circle cx="315.60" cy="308.58" r="2.6"/>
<circle cx="315.60" cy="319.75" r="2.6"/>
<circle cx="329.27" cy="219.20" r="2.6"/>
<circle cx="329.27" cy="230.37" r="2.6"/>
<circle cx="329.27" cy="241.54" r="2.6"/>
<circle cx="329.27" cy="252.72" r="2.6"/>
<circle cx="329.27" cy="263.89" r="2.6"/>
<circle cx="329.27" cy="275.06" r="2.6"/>
<circle cx="329.27" cy="286.23" r="2.6"/>
<circle cx="329.27" cy="308.58" r="2.6"/>
<circle cx="342.94" cy="219.20" r="2.6"/>
<circle cx="342.94" cy="230.37" r="2.6"/>
<circle cx="342.94" cy="241.54" r="2.6"/>
<circle cx="342.94" cy="252.72" r="2.6"/>
<circle cx="342.94" cy="263.89" r="2.6"/>
<circle cx="342.94" cy="275.06" r="2.6"/>
<circle cx="342.94" cy="286.23" r="2.6"/>
<circle cx="356.61" cy="219.20" r="2.6"/>
<circle cx="356.61" cy="230.37" r="2.6"/>
<circle cx="356.61" cy="241.54" r="2.6"/>
<circle cx="356.61" cy="252.72" r="2.6"/>
<circle cx="356.61" cy="263.89" r="2.6"/>
<circle cx="356.61" cy="275.06" r="2.6"/>
<circle cx="356.61" cy="286.23" r="2.6"/>
<circle cx="356.61" cy="297.41" r="2.6"/>
<circle cx="370.28" cy="219.20" r="2.6"/>
<circle cx="370.28" cy="230.37" r="2.6"/>
<circle cx="370.28" cy="241.54" r="2.6"/>
<circle cx="370.28" cy="252.72" r="2.6"/>
<circle cx="370.28" cy="263.89" r="2.6"/>
<circle cx="370.28" cy="275.06" r="2.6"/>
<circle cx="370.28" cy="286.23" r="2.6"/>
<circle cx="370.28" cy="297.41" r="2.6"/>
<circle cx="383.95" cy="219.20" r="2.6"/>
<circle cx="383.95" cy="230.37" r="2.6"/>
<circle cx="383.95" cy="241.54" r="2.6"/>
<circle cx="383.95" cy="252.72" r="2.6"/>
<circle cx="383.95" cy="263.89" r="2.6"/>
<circle cx="383.95" cy="275.06" r="2.6"/>
<circle cx="383.95" cy="286.23" r="2.6"/>
<circle cx="383.95" cy="297.41" r="2.6"/>
<circle cx="383.95" cy="308.58" r="2.6"/>
<circle cx="397.62" cy="219.20" r="2.6"/>
<circle cx="397.62" cy="230.37" r="2.6"/>
<circle cx="397.62" cy="241.54" r="2.6"/>
<circle cx="397.62" cy="252.72" r="2.6"/>
<circle cx="397.62" cy="263.89" r="2.6"/>
<circle cx="397.62" cy="275.06" r="2.6"/>
<circle cx="397.62" cy="286.23" r="2.6"/>
<circle cx="411.29" cy="219.20" r="2.6"/>
<circle cx="411.29" cy="230.37" r="2.6"/>
<circle cx="411.29" cy="241.54" r="2.6"/>
<circle cx="411.29" cy="252.72" r="2.6"/>
<circle cx="411.29" cy="263.89" r="2.6"/>
<circle cx="411.29" cy="275.06" r="2.6"/>
<circle cx="411.29" cy="286.23" r="2.6"/>
<circle cx="424.96" cy="219.20" r="2.6"/>
<circle cx="424.96" cy="230.37" r="2.6"/>
<circle cx="424.96" cy="241.54" r="2.6"/>
<circle cx="424.96" cy="252.72" r="2.6"/>
<circle cx="424.96" cy="263.89" r="2.6"/>
<circle cx="424.96" cy="275.06" r="2.6"/>
<circle cx="424.96" cy="286.23" r="2.6"/>
<circle cx="438.63" cy="219.20" r="2.6"/>
<circle cx="438.63" cy="230.37" r="2.6"/>
<circle cx="438.63" cy="241.54" r="2.6"/>
<circle cx="438.63" cy="252.72" r="2.6"/>
<circle cx="438.63" cy="263.89" r="2.6"/>
<circle cx="452.30" cy="219.20" r="2.6"/>
<circle cx="452.30" cy="230.37" r="2.6"/>
<circle cx="452.30" cy="241.54" r="2.6"/>
<circle cx="452.30" cy="252.72" r="2.6"/>
<circle cx="452.30" cy="263.89" r="2.6"/>
<circle cx="452.30" cy="275.06" r="2.6"/>
<circle cx="452.30" cy="286.23" r="2.6"/>
<circle cx="452.30" cy="297.41" r="2.6"/>
<circle cx="465.97" cy="219.20" r="2.6"/>
<circle cx="465.97" cy="230.37" r="2.6"/>
<circle cx="465.97" cy="241.54" r="2.6"/>
<circle cx="465.97" cy="252.72" r="2.6"/>
<circle cx="465.97" cy="263.89" r="2.6"/>
<circle cx="465.97" cy="308.58" r="2.6"/>
<circle cx="479.64" cy="219.20" r="2.6"/>
<circle cx="479.64" cy="230.37" r="2.6"/>
<circle cx="479.64" cy="241.54" r="2.6"/>
<circle cx="479.64" cy="252.72" r="2.6"/>
<circle cx="493.31" cy="219.20" r="2.6"/>
<circle cx="493.31" cy="230.37" r="2.6"/>
<circle cx="493.31" cy="252.72" r="2.6"/>
<circle cx="493.31" cy="263.89" r="2.6"/>
<circle cx="506.98" cy="219.20" r="2.6"/>
<circle cx="506.98" cy="230.37" r="2.6"/>
<circle cx="506.98" cy="241.54" r="2.6"/>
<circle cx="506.98" cy="252.72" r="2.6"/>
<circle cx="506.98" cy="286.23" r="2.6"/>
<circle cx="520.65" cy="219.20" r="2.6"/>
<circle cx="520.65" cy="230.37" r="2.6"/>
<circle cx="520.65" cy="252.72" r="2.6"/>
<line x1="308.8" x2="308.8" y1="212.6" y2="326.7" stroke="#505050" stroke-width="1.15"/>
<line x1="308.3" x2="527.7" y1="326.2" y2="326.2" stroke="#505050" stroke-width="1.15"/>
<line x1="305.6" x2="308.8" y1="319.75" y2="319.75" stroke="#505050" stroke-width="1.1"/>
<text x="302.60" y="322.95" text-anchor="end" font-size="8.3" class="tk">1</text>
<line x1="305.6" x2="308.8" y1="302.99" y2="302.99" stroke="#505050" stroke-width="1.1"/>
<text x="302.60" y="306.19" text-anchor="end" font-size="8.3" class="tk">1.5</text>
<line x1="305.6" x2="308.8" y1="286.23" y2="286.23" stroke="#505050" stroke-width="1.1"/>
<text x="302.60" y="289.43" text-anchor="end" font-size="8.3" class="tk">2</text>
<line x1="305.6" x2="308.8" y1="269.47" y2="269.47" stroke="#505050" stroke-width="1.1"/>
<text x="302.60" y="272.67" text-anchor="end" font-size="8.3" class="tk">2.5</text>
<line x1="305.6" x2="308.8" y1="252.72" y2="252.72" stroke="#505050" stroke-width="1.1"/>
<text x="302.60" y="255.92" text-anchor="end" font-size="8.3" class="tk">3</text>
<line x1="305.6" x2="308.8" y1="235.96" y2="235.96" stroke="#505050" stroke-width="1.1"/>
<text x="302.60" y="239.16" text-anchor="end" font-size="8.3" class="tk">3.5</text>
<line x1="305.6" x2="308.8" y1="219.20" y2="219.20" stroke="#505050" stroke-width="1.1"/>
<text x="302.60" y="222.40" text-anchor="end" font-size="8.3" class="tk">4</text>
<line x1="315.60" x2="315.60" y1="326.2" y2="330.2" stroke="#505050" stroke-width="1.1"/>
<text x="315.60" y="339.9" text-anchor="middle" font-size="8.3" class="tk">1</text>
<line x1="349.77" x2="349.77" y1="326.2" y2="330.2" stroke="#505050" stroke-width="1.1"/>
<text x="349.77" y="339.9" text-anchor="middle" font-size="8.3" class="tk">1.5</text>
<line x1="383.95" x2="383.95" y1="326.2" y2="330.2" stroke="#505050" stroke-width="1.1"/>
<text x="383.95" y="339.9" text-anchor="middle" font-size="8.3" class="tk">2</text>
<line x1="418.12" x2="418.12" y1="326.2" y2="330.2" stroke="#505050" stroke-width="1.1"/>
<text x="418.12" y="339.9" text-anchor="middle" font-size="8.3" class="tk">2.5</text>
<line x1="452.30" x2="452.30" y1="326.2" y2="330.2" stroke="#505050" stroke-width="1.1"/>
<text x="452.30" y="339.9" text-anchor="middle" font-size="8.3" class="tk">3</text>
<line x1="486.47" x2="486.47" y1="326.2" y2="330.2" stroke="#505050" stroke-width="1.1"/>
<text x="486.47" y="339.9" text-anchor="middle" font-size="8.3" class="tk">3.5</text>
<line x1="520.65" x2="520.65" y1="326.2" y2="330.2" stroke="#505050" stroke-width="1.1"/>
<text x="520.65" y="339.9" text-anchor="middle" font-size="8.3" class="tk">4</text>
<text x="317.2" y="207.5" font-size="8.5" class="lt">D</text>
<text x="418.30" y="349.9" text-anchor="middle" font-size="10.05" class="xt">Ongoing training in mental health</text>
<text x="390.4" y="319.7" font-size="8.2" class="t">Spearman rho = 0.289, <tspan dx="1" font-style="italic">p</tspan><tspan dx="-1"> &lt; 0.001</tspan></text>
<rect x="312.8" y="357.7" width="211.1" height="18.5" fill="#fff" stroke="#555" stroke-width="1"/>
<line x1="317.4" x2="355.4" y1="367.0" y2="367.0" stroke="#1d4b78" stroke-width="1.1"/>
<text x="363.8" y="369.9" font-size="8.2" class="t">Fitted values</text>
<circle cx="432.5" cy="367.0" r="2.6" fill="#9a2838"/>
<text x="443.0" y="369.9" font-size="8.2" class="t">Preparedness score</text>
</svg>
</body></html>
